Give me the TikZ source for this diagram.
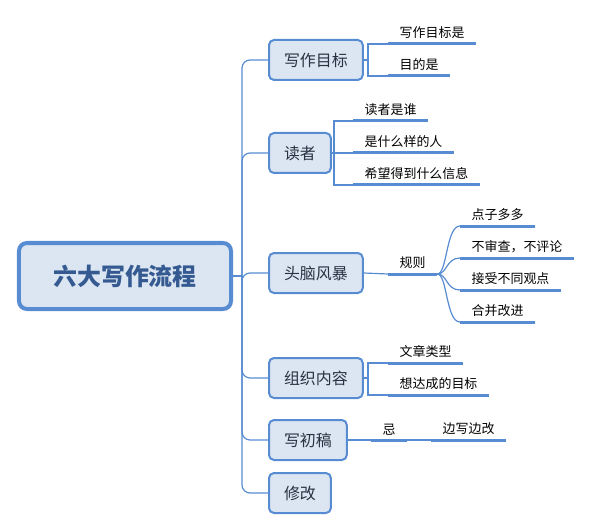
\documentclass[tikz,border=0pt]{standalone}
\usepackage{fontspec}
\newfontfamily\cjk{Noto Sans CJK SC}
\usetikzlibrary{positioning}

\definecolor{lineblue}{RGB}{88,140,210}
\definecolor{boxfill}{RGB}{220,230,242}
\definecolor{roottext}{RGB}{52,90,145}
\definecolor{boxtext}{RGB}{40,50,65}

\tikzset{
	rootbox/.style={draw=lineblue, fill=boxfill, line width=4bp, rounded corners=8bp, minimum width=212bp, minimum height=66bp, text=roottext, font=\cjk\bfseries\fontsize{24}{24}\selectfont},
	mainbox/.style={draw=lineblue, fill=boxfill, line width=2bp, rounded corners=5bp, inner xsep=15bp, minimum height=40bp, text=boxtext, font=\cjk\fontsize{16}{16}\selectfont, anchor=west},
	leaf/.style={inner xsep=11.5bp, inner ysep=5bp, anchor=south west, text=black, font=\cjk\fontsize{13}{13}\selectfont},
	branch/.style={lineblue, line width=1.2bp},
	under/.style={lineblue, line width=3bp},
}

\begin{document}
\begin{tikzpicture}[x=1bp,y=-1bp]

	\useasboundingbox (0,0) rectangle (592,531);

	\def\trunk{242};

	% root and main steps
	\node[rootbox] (root) at (125,276) {六大写作流程};
	\coordinate (hub) at (\trunk,276);

	\node[mainbox] (goal) at (268,60) {写作目标};
	\node[mainbox] (reader) at (268,153) {读者};
	\node[mainbox] (storm) at (268,273) {头脑风暴};
	\node[mainbox] (organise) at (268,378) {组织内容};
	\node[mainbox] (draft) at (268,440) {写初稿};
	\node[mainbox] (revise) at (268,493) {修改};

	\draw[branch] (root.east) -- (hub);
	\foreach \n in {goal,reader,storm,organise,draft,revise}
		\draw[branch, rounded corners=8bp] (hub) |- (\n.west);

	% 写作目标
	\node[leaf] (g1) at (388,44) {写作目标是};
	\node[leaf] (g2) at (388,76) {目的是};
	\coordinate (goalhub) at (368,60);
	\draw[branch] (goal.east) -- (goalhub);
	\draw[branch] (goalhub) |- (g1.south west);
	\draw[branch] (goalhub) |- (g2.south west);

	% 读者
	\node[leaf] (r1) at (353,121) {读者是谁};
	\node[leaf] (r2) at (353,153) {是什么样的人};
	\node[leaf] (r3) at (353,185) {希望得到什么信息};
	\coordinate (readerhub) at (334,153);
	\draw[branch] (reader.east) -- (readerhub);
	\foreach \n in {r1,r2,r3}
		\draw[branch] (readerhub) |- (\n.south west);

	% 头脑风暴
	\node[leaf] (rule) at (388,274) {规则};
	\node[leaf] (b1) at (460,226) {点子多多};
	\node[leaf] (b2) at (460,258) {不审查，不评论};
	\node[leaf] (b3) at (460,290) {接受不同观点};
	\node[leaf] (b4) at (460,322) {合并改进};
	\draw[branch] (storm.east) -- (rule.south west);
	\foreach \n in {b1,b2,b3,b4}
		\draw[branch] (rule.south east) .. controls +(10,0) and +(-14,0) .. (\n.south west);

	% 组织内容
	\node[leaf] (o1) at (388,363) {文章类型};
	\node[leaf] (o2) at (388,395) {想达成的目标};
	\coordinate (orghub) at (368,378);
	\draw[branch] (organise.east) -- (orghub);
	\draw[branch] (orghub) |- (o1.south west);
	\draw[branch] (orghub) |- (o2.south west);

	% 写初稿
	\node[leaf] (d1) at (371,440) {忌};
	\node[leaf] (d2) at (431,440) {边写边改};
	\draw[branch] (draft.east) -- (d1.south west);
	\draw[branch] (d1.south east) -- (d2.south west);

	% underlines
	\foreach \n in {g1,g2,r1,r2,r3,rule,b1,b2,b3,b4,o1,o2,d1,d2}
		\draw[under] (\n.south west) -- (\n.south east);

\end{tikzpicture}
\end{document}
